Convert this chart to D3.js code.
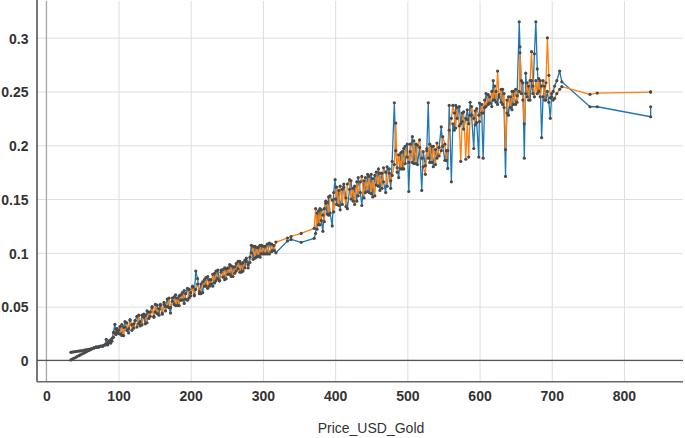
<!DOCTYPE html>
<meta charset="utf-8">
<style>

body {
  margin: 0;
  background: #fff;
}

svg {
  display: block;
  font-family: "Liberation Sans", Arial, sans-serif;
}

.labels text {
  fill: #333;
  font-size: 14px;
  font-weight: bold;
}

.grid line {
  stroke: #dedede;
  stroke-width: 1px;
}

.grid path, .labels path {
  display: none;
}

.series {
  fill: none;
  stroke-width: 1.3px;
  stroke-linejoin: round;
}

.blue { stroke: #1f77b4; }
.orange { stroke: #ff7f0e; }

.dots circle {
  fill: #4a4a4a;
}

</style>

<svg width="685" height="438"></svg>
<script src="https://d3js.org/d3.v7.min.js"></script>
<script>

// gold price (x) shared by both series
const goldPrice = [
  34, 36, 38, 40.5, 42.5, 45, 47, 49.5,
  52, 54, 56.5, 59, 61, 63,
  66, 69, 72, 75, 78, 81, 83, 85,
  87, 89, 91, 93, 95, 96.5, 98, 100,
  102, 104.5, 107, 109, 111.5, 114, 116, 118.5,
  121, 123, 125.5, 128, 130, 132.5, 135, 137,
  139.5, 142, 144, 146.5, 149, 151, 153.5, 156,
  158, 160.5, 163, 165, 167.5, 170, 172, 174.5,
  177, 179, 181.5, 184, 186, 188.5, 191, 193,
  195.5, 198, 200, 202.5, 205, 207, 209.5, 212,
  214, 216.5, 219, 221, 223.5, 226, 228, 230.5,
  233, 235, 237.5, 240, 242, 244.5, 247, 249,
  251.5, 254, 256, 258.5, 261, 263, 265.5, 268,
  270, 272.5, 275, 277, 279.5, 282, 284, 286.5,
  289, 291, 293.5, 296, 298, 300.5, 303, 306,
  309, 312, 315, 318,
  334, 339, 353, 371,
  373, 375, 377, 379, 381, 383, 385, 387,
  389, 391, 393, 396, 398, 400, 402, 405,
  407, 410, 412, 415, 417, 420, 422, 425,
  427, 430, 432, 435, 437, 440, 442, 445,
  447, 450, 452, 455, 457, 460, 462, 465,
  467, 470, 472, 475, 477, 479, 482, 484,
  486, 488, 491, 493, 495, 497, 500, 502,
  504, 507, 509, 512, 514, 517, 520, 522,
  525, 527, 529, 531, 534, 536, 539, 541,
  544, 547, 549, 552, 554, 556, 558, 561,
  563, 565, 567, 569, 572, 574, 576, 578,
  581, 583, 585, 587, 589, 592, 594, 596,
  599, 600, 603, 605, 607, 609, 612, 614,
  617, 619, 621, 623, 625, 627, 630, 632,
  634, 636, 638, 640, 643, 645, 647, 650,
  652, 655, 656, 658, 660, 662, 664, 666,
  668, 670, 672, 674, 676, 678, 680, 682,
  684, 686, 688, 690, 692, 694, 696, 698,
  700, 702, 704, 707, 711, 714, 753, 763,
  837, 837
];

const ratioBlue = [
  .0004, .0011, .0019, .0027, .0036, .0044, .0051, .0060,
  .0068, .0075, .0084, .0092, .0100, .0108,
  .0118, .0122, .0128, .0131, .0137, .0142, .0196, .0165,
  .0182, .0160, .0205, .0260, .0335, .0240, .0295, .0250,
  .0315, .0232, .0310, .0360, .0280, .0255, .0370, .0330,
  .0300, .0370, .0410, .0340, .0320, .0420, .0400, .0340,
  .0460, .0390, .0450, .0500, .0410, .0450, .0515, .0420,
  .0510, .0430, .0540, .0500, .0570, .0490, .0440, .0580,
  .0520, .0610, .0510, .0600, .0560, .0630, .0530, .0620,
  .0670, .0580, .0630, .0680, .0610, .0830, .0760, .0620,
  .0710, .0630, .0750, .0690, .0780, .0690, .0750, .0690,
  .0810, .0740, .0840, .0740, .0820, .0845, .0750, .0850,
  .0800, .0890, .0780, .0870, .0810, .0900, .0850, .0920,
  .0820, .0910, .0860, .0950, .0890, .0960, .1070, .0940,
  .1060, .0960, .1050, .0960, .1070, .0990, .1060, .0990,
  .1090, .1010, .1070, .1000,
  .1110, .1125, .1098, .1135,
  .118, .137, .126, .141, .130, .120, .141, .146,
  .136, .152, .137, .125, .156, .168, .145, .158,
  .140, .159, .164, .151, .141, .159, .167, .148,
  .162, .148, .170, .156, .144, .167, .156, .173,
  .156, .173, .152, .172, .163, .178, .158, .174,
  .166, .156, .180, .174, .160, .185, .2395, .195,
  .179, .170, .193, .178, .197, .183, .201, .157,
  .194, .208, .183, .201, .182, .198, .158, .194,
  .181, .197, .2395, .184, .199, .180, .196, .188,
  .1980, .2170, .1990, .1860, .1950, .1785, .2370, .1660,
  .2200, .2140, .2370, .2250, .2360, .2200, .2300, .2150,
  .2250, .2330, .2200, .2400, .2280, .1970, .2320, .2210,
  .1890, .2392, .2300, .1880, .2350, .2480, .2380, .2450,
  .2360, .2600, .2420, .2500, .2380, .2470, .2400, .2520,
  .2350, .1710, .2420, .2280, .2450, .2330, .2500, .2380,
  .2460, .3148, .2915, .2480, .2580, .1880, .2670, .2450,
  .2550, .2420, .2600, .2480, .2850, .3148, .2710, .2500,
  .2600, .2070, .2450, .2550, .2420, .2500, .2400, .2250,
  .2480, .2500, .2550, .2600, .2690, .2590, .2358, .2358,
  .2265, .2358
];

const ratioOrange = [
  .0075, .0077, .0080, .0082, .0084, .0087, .0089, .0091,
  .0094, .0097, .0100, .0103, .0106, .0110,
  .0114, .0125, .0121, .0134, .0130, .0145, .0150, .0143,
  .0172, .0188, .0178, .0215, .0255, .0290, .0262, .0280,
  .0245, .0332, .0230, .0310, .0350, .0295, .0380, .0280,
  .0340, .0370, .0310, .0420, .0360, .0330, .0430, .0420,
  .0350, .0450, .0410, .0490, .0400, .0520, .0435, .0480,
  .0520, .0440, .0520, .0460, .0500, .0580, .0490, .0550,
  .0590, .0510, .0580, .0510, .0610, .0560, .0650, .0570,
  .0560, .0660, .0600, .0690, .0600, .0660, .0710, .0640,
  .0620, .0730, .0690, .0770, .0670, .0750, .0710, .0800,
  .0720, .0830, .0760, .0740, .0840, .0775, .0860, .0760,
  .0860, .0800, .0880, .0780, .0870, .0830, .0920, .0820,
  .0900, .0830, .0930, .0920, .0860, .0910, .1000, .1060,
  .0950, .1050, .0970, .1070, .0990, .1060, .0990, .1080,
  .0990, .1080, .1020, .1100,
  .1137, .1152, .1180, .1228,
  .141, .122, .139, .126, .140, .135, .129, .148,
  .147, .135, .153, .149, .138, .150, .161, .144,
  .162, .145, .161, .143, .164, .168, .150, .160,
  .145, .166, .153, .166, .171, .151, .170, .157,
  .171, .155, .169, .153, .175, .162, .174, .160,
  .179, .175, .162, .178, .167, .172, .182, .2206,
  .175, .191, .178, .194, .178, .199, .189, .184,
  .201, .184, .204, .183, .200, .205, .188, .180,
  .173, .195, .188, .201, .184, .199, .182, .202,
  .1900, .1950, .2080, .2010, .1860, .1950, .2140, .2250,
  .2370, .2300, .2160, .2350, .2180, .1850, .2220, .2310,
  .1870, .2240, .1890, .2280, .2360, .2250, .2190, .2340,
  .2280, .2220, .2380, .2300, .2420, .2360, .2470, .2390,
  .2500, .2420, .2550, .2400, .2690, .2450, .2520, .2380,
  .2480, .1960, .2300, .2450, .2350, .2500, .2380, .2520,
  .2400, .2500, .2860, .2600, .2420, .2200, .2480, .2580,
  .2420, .2600, .2870, .2550, .2450, .2600, .2480, .2620,
  .2450, .2550, .2600, .2420, .2580, .2999, .2650, .2440,
  .2450, .2420, .2436, .2480, .2520, .2545, .2473, .2485,
  .2494, .2497
];

const xTicks = [0, 100, 200, 300, 400, 500, 600, 700, 800];
const yTicks = [0, 0.05, 0.1, 0.15, 0.2, 0.25, 0.3];
const xTitle = "Price_USD_Gold";

if (goldPrice.length !== ratioBlue.length || goldPrice.length !== ratioOrange.length) {
  console.error("length mismatch", goldPrice.length, ratioBlue.length, ratioOrange.length);
}

const svg = d3.select("svg");
const plotLeft = 37, plotRight = 683, plotTop = 1, plotBottom = 381.7;

const x = d3.scaleLinear().domain([-12.9, 881.8]).range([plotLeft, plotRight]);
const y = d3.scaleLinear().domain([-0.0198, 0.3341]).range([plotBottom, plotTop]);

// grid
svg.append("g")
    .attr("class", "grid")
    .attr("transform", "translate(0," + plotBottom + ")")
    .call(d3.axisBottom(x).tickValues(xTicks).tickSize(-(plotBottom - plotTop)).tickFormat(""));

svg.append("g")
    .attr("class", "grid")
    .attr("transform", "translate(" + plotLeft + ",0)")
    .call(d3.axisLeft(y).tickValues(yTicks).tickSize(-(plotRight - plotLeft)).tickFormat(""));

// zero lines
svg.append("line")
    .attr("x1", x(0)).attr("x2", x(0))
    .attr("y1", plotTop).attr("y2", plotBottom)
    .attr("stroke", "#999").attr("stroke-width", 1);

svg.append("line")
    .attr("x1", plotLeft).attr("x2", plotRight)
    .attr("y1", y(0)).attr("y2", y(0))
    .attr("stroke", "#555").attr("stroke-width", 1.2);

// axis frame
svg.append("line")
    .attr("x1", plotLeft).attr("x2", plotLeft)
    .attr("y1", 0).attr("y2", plotBottom)
    .attr("stroke", "#555").attr("stroke-width", 1.6);

svg.append("line")
    .attr("x1", plotLeft).attr("x2", plotRight)
    .attr("y1", plotBottom).attr("y2", plotBottom)
    .attr("stroke", "#666").attr("stroke-width", 1.6);

// tick labels
svg.append("g")
    .attr("class", "labels")
    .attr("transform", "translate(0," + plotBottom + ")")
    .call(d3.axisBottom(x).tickValues(xTicks).tickSize(0).tickPadding(9.8));

svg.append("g")
    .attr("class", "labels")
    .attr("transform", "translate(" + plotLeft + ",0)")
    .call(d3.axisLeft(y).tickValues(yTicks).tickSize(0).tickPadding(8.5)
      .tickFormat(function(d) { return String(d); }))
  .selectAll("text")
    .attr("dy", "0.38em");

svg.append("text")
    .attr("x", 371)
    .attr("y", 433)
    .attr("text-anchor", "middle")
    .attr("fill", "#333")
    .attr("font-size", "14px")
    .text(xTitle);

// series
const line = d3.line()
    .x(function(d, i) { return x(goldPrice[i]); })
    .y(function(d) { return y(d); });

svg.append("path")
    .datum(ratioBlue)
    .attr("class", "series blue")
    .attr("d", line);

svg.append("path")
    .datum(ratioOrange)
    .attr("class", "series orange")
    .attr("d", line);

[ratioBlue, ratioOrange].forEach(function(values) {
  svg.append("g")
      .attr("class", "dots")
    .selectAll("circle")
    .data(values)
    .enter().append("circle")
      .attr("cx", function(d, i) { return x(goldPrice[i]); })
      .attr("cy", function(d) { return y(d); })
      .attr("r", 1.6);
});

</script>
